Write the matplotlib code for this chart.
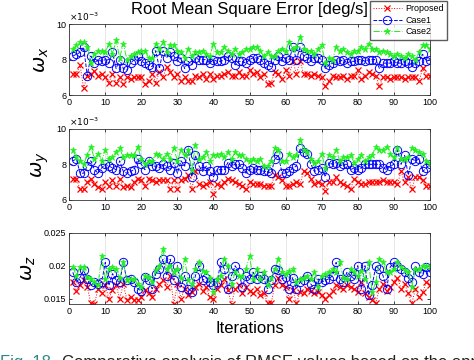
import numpy as np
import matplotlib
matplotlib.use('Agg')
import matplotlib.pyplot as plt

plt.rcParams['font.family'] = ['Liberation Sans', 'DejaVu Sans']
plt.rcParams['mathtext.fontset'] = 'dejavusans'

iterations = np.arange(1, 101)

# omega_x  (x 1e-3)
wx_proposed = [7.2, 7.2, 7.7, 6.4, 7.1, 7.2, 7.35, 7.1, 7.2, 7.0,
               6.7, 7.2, 6.7, 7.0, 6.6, 7.0, 6.9, 7.0, 7.0, 7.0,
               6.6, 6.8, 7.2, 6.7, 7.3, 7.0, 7.6, 7.3, 7.0, 7.2,
               6.8, 7.0, 6.8, 6.8, 7.1, 7.0, 7.2, 6.9, 7.2, 6.9,
               7.1, 7.1, 7.2, 7.3, 7.1, 7.1, 7.3, 7.1, 7.1, 7.4,
               7.2, 7.3, 7.0, 7.2, 6.6, 6.7, 7.3, 7.2, 6.9, 7.4,
               7.1, 7.9, 7.2, 7.9, 7.2, 7.2, 7.1, 7.2, 7.1, 7.0,
               6.5, 6.8, 7.1, 7.0, 7.0, 7.1, 6.9, 7.1, 7.1, 7.4,
               6.9, 7.1, 7.3, 7.2, 7.1, 6.5, 7.0, 7.0, 6.9, 7.0,
               7.0, 7.0, 6.9, 7.0, 7.0, 7.0, 6.8, 7.5, 7.1, 7.1]
wx_case1 = [8.2, 8.3, 8.4, 8.7, 7.1, 8.2, 7.8, 8.0, 7.9, 8.0,
            7.8, 8.4, 7.5, 8.0, 7.5, 7.4, 7.8, 8.0, 8.2, 7.9,
            7.8, 7.7, 7.6, 8.5, 7.5, 8.5, 8.1, 8.4, 8.2, 7.9,
            8.1, 7.5, 7.9, 7.7, 8.1, 8.0, 8.0, 8.0, 7.8, 8.0,
            7.9, 7.9, 8.0, 8.2, 8.1, 7.7, 7.9, 7.9, 7.8, 8.0,
            8.1, 8.1, 8.0, 7.8, 7.7, 7.6, 8.0, 8.2, 7.9, 8.1,
            8.0, 8.7, 8.0, 8.7, 8.2, 8.1, 7.9, 8.1, 8.1, 8.0,
            7.5, 7.7, 7.8, 8.0, 7.9, 8.0, 7.8, 7.9, 7.9, 8.0,
            8.0, 7.9, 8.0, 8.0, 8.0, 7.5, 7.8, 7.8, 7.8, 7.9,
            7.8, 7.8, 7.9, 7.8, 7.6, 7.8, 7.9, 8.3, 7.9, 8.0]
wx_case2 = [8.6, 8.8, 9.0, 9.0, 8.7, 7.8, 8.3, 8.5, 8.5, 8.4,
            8.9, 8.3, 9.1, 8.1, 8.9, 8.0, 8.2, 8.3, 8.4, 8.5,
            8.5, 8.1, 8.1, 8.9, 8.6, 9.0, 8.4, 8.8, 8.8, 8.5,
            8.4, 8.1, 8.6, 8.2, 8.4, 8.4, 8.5, 8.3, 8.2, 8.9,
            8.4, 8.4, 8.7, 8.5, 8.3, 8.6, 8.3, 8.4, 8.6, 8.6,
            8.7, 8.7, 8.5, 8.2, 8.4, 8.2, 8.2, 8.5, 8.6, 8.5,
            9.0, 8.6, 8.7, 9.3, 8.6, 8.5, 8.5, 8.3, 8.6, 8.8,
            7.8, 8.1, 8.0, 8.7, 8.5, 8.6, 8.4, 8.3, 8.5, 8.5,
            8.7, 8.6, 8.9, 8.6, 8.6, 8.4, 8.5, 8.4, 8.3, 8.2,
            8.3, 8.2, 8.1, 8.3, 8.2, 8.0, 8.4, 8.8, 8.8, 8.6]

# omega_y  (x 1e-3)
wy_proposed = [7.2, 7.2, 6.6, 6.6, 7.0, 7.2, 6.9, 6.7, 6.6, 7.0,
               6.8, 7.1, 6.8, 7.2, 6.7, 6.8, 6.7, 7.0, 7.2, 7.1,
               6.8, 7.2, 7.1, 7.0, 7.1, 7.1, 7.1, 6.6, 7.1, 6.6,
               7.1, 7.2, 7.4, 6.6, 7.6, 6.9, 6.8, 6.9, 7.0, 6.3,
               6.9, 6.8, 7.0, 7.2, 7.1, 7.0, 6.9, 6.8, 6.6, 7.0,
               6.9, 6.9, 6.9, 6.8, 6.8, 6.8, 7.4, 7.3, 7.1, 6.8,
               6.8, 6.9, 7.0, 6.9, 7.6, 7.5, 7.2, 6.9, 7.0, 6.9,
               6.5, 7.0, 7.0, 7.3, 7.0, 6.9, 6.8, 6.6, 7.2, 7.0,
               6.9, 6.9, 7.0, 7.0, 7.0, 7.0, 7.1, 7.0, 7.0, 7.0,
               6.9, 7.6, 7.0, 7.3, 6.6, 7.3, 7.3, 7.1, 6.8, 6.8]
wy_case1 = [8.2, 8.3, 7.5, 7.5, 7.9, 8.2, 7.7, 7.5, 7.8, 8.0,
            7.9, 7.8, 7.7, 8.2, 7.6, 7.5, 7.6, 7.7, 8.3, 8.0,
            7.7, 8.2, 7.9, 7.9, 7.8, 8.0, 7.9, 7.7, 8.1, 7.5,
            8.2, 7.9, 8.8, 7.3, 8.5, 7.9, 7.6, 7.9, 7.6, 7.3,
            7.7, 7.7, 7.7, 8.1, 7.9, 8.0, 8.0, 7.8, 7.5, 7.7,
            7.8, 7.7, 7.7, 7.6, 7.6, 7.5, 8.3, 8.5, 7.5, 7.5,
            7.6, 7.8, 7.9, 8.9, 8.7, 8.6, 8.0, 7.6, 7.7, 7.8,
            7.3, 8.1, 8.0, 8.1, 7.9, 8.0, 8.0, 7.7, 7.8, 7.7,
            7.8, 8.0, 8.0, 8.0, 8.0, 8.0, 7.8, 7.7, 7.9, 8.0,
            8.8, 8.0, 8.5, 7.4, 8.3, 8.2, 8.3, 7.6, 7.8, 8.0]
wy_case2 = [8.8, 8.4, 8.2, 8.0, 8.5, 9.0, 8.3, 8.6, 8.2, 8.8,
            8.3, 8.4, 8.7, 8.9, 8.4, 8.5, 8.5, 8.5, 9.0, 8.3,
            8.0, 8.2, 8.2, 8.6, 8.5, 8.3, 8.6, 8.3, 8.9, 8.2,
            8.8, 8.5, 8.8, 7.7, 9.1, 8.3, 8.4, 8.7, 8.2, 8.5,
            8.5, 8.6, 8.4, 8.7, 8.3, 8.7, 8.5, 8.5, 8.3, 8.2,
            8.3, 8.2, 8.3, 7.9, 7.9, 8.2, 8.9, 8.8, 8.2, 8.2,
            8.6, 8.4, 8.5, 9.4, 8.8, 8.7, 8.3, 8.1, 8.2, 8.6,
            7.8, 8.5, 8.4, 8.8, 8.2, 8.4, 8.4, 8.5, 8.1, 8.3,
            8.5, 8.2, 8.4, 8.5, 9.0, 8.8, 8.8, 9.0, 8.6, 8.4,
            8.9, 8.3, 8.3, 8.4, 8.9, 8.8, 8.7, 8.6, 8.2, 8.1]

# omega_z
wz_proposed = [0.0176, 0.0162, 0.0170, 0.0178, 0.0168, 0.0143, 0.0142, 0.0165, 0.0158, 0.0170,
               0.0150, 0.0163, 0.0170, 0.0150, 0.0172, 0.0148, 0.0153, 0.0148, 0.0148, 0.0152,
               0.0163, 0.0158, 0.0153, 0.0165, 0.0172, 0.0178, 0.0168, 0.0185, 0.0142, 0.0172,
               0.0150, 0.0165, 0.0155, 0.0160, 0.0168, 0.0172, 0.0162, 0.0168, 0.0152, 0.0150,
               0.0165, 0.0170, 0.0180, 0.0163, 0.0142, 0.0165, 0.0170, 0.0158, 0.0168, 0.0162,
               0.0158, 0.0165, 0.0155, 0.0158, 0.0143, 0.0143, 0.0170, 0.0182, 0.0170, 0.0168,
               0.0150, 0.0163, 0.0143, 0.0160, 0.0158, 0.0165, 0.0162, 0.0158, 0.0160, 0.0155,
               0.0150, 0.0155, 0.0162, 0.0170, 0.0168, 0.0165, 0.0170, 0.0168, 0.0165, 0.0160,
               0.0175, 0.0158, 0.0152, 0.0148, 0.0143, 0.0165, 0.0172, 0.0162, 0.0168, 0.0175,
               0.0182, 0.0165, 0.0172, 0.0158, 0.0143, 0.0165, 0.0152, 0.0160, 0.0175, 0.0170]
wz_case1 = [0.0190, 0.0175, 0.0182, 0.0193, 0.0180, 0.0170, 0.0175, 0.0172, 0.0175, 0.0205,
            0.0170, 0.0188, 0.0178, 0.0175, 0.0205, 0.0178, 0.0180, 0.0175, 0.0165, 0.0162,
            0.0183, 0.0178, 0.0165, 0.0188, 0.0195, 0.0210, 0.0185, 0.0210, 0.0178, 0.0200,
            0.0168, 0.0185, 0.0165, 0.0160, 0.0185, 0.0200, 0.0178, 0.0182, 0.0175, 0.0170,
            0.0175, 0.0205, 0.0195, 0.0165, 0.0185, 0.0200, 0.0190, 0.0168, 0.0185, 0.0180,
            0.0190, 0.0180, 0.0185, 0.0180, 0.0165, 0.0178, 0.0195, 0.0193, 0.0180, 0.0183,
            0.0165, 0.0182, 0.0165, 0.0175, 0.0178, 0.0185, 0.0172, 0.0165, 0.0180, 0.0175,
            0.0178, 0.0180, 0.0185, 0.0205, 0.0180, 0.0175, 0.0190, 0.0185, 0.0180, 0.0200,
            0.0165, 0.0200, 0.0155, 0.0170, 0.0200, 0.0195, 0.0185, 0.0165, 0.0198, 0.0205,
            0.0200, 0.0195, 0.0190, 0.0182, 0.0175, 0.0200, 0.0190, 0.0188, 0.0198, 0.0190]
wz_case2 = [0.0198, 0.0185, 0.0198, 0.0198, 0.0183, 0.0180, 0.0175, 0.0170, 0.0215, 0.0180,
            0.0195, 0.0198, 0.0195, 0.0182, 0.0205, 0.0178, 0.0180, 0.0180, 0.0172, 0.0168,
            0.0185, 0.0183, 0.0175, 0.0193, 0.0200, 0.0225, 0.0195, 0.0200, 0.0190, 0.0195,
            0.0182, 0.0210, 0.0178, 0.0172, 0.0195, 0.0205, 0.0192, 0.0190, 0.0182, 0.0160,
            0.0180, 0.0185, 0.0210, 0.0200, 0.0172, 0.0190, 0.0185, 0.0185, 0.0195, 0.0215,
            0.0180, 0.0195, 0.0180, 0.0190, 0.0170, 0.0182, 0.0195, 0.0210, 0.0190, 0.0188,
            0.0192, 0.0195, 0.0175, 0.0180, 0.0182, 0.0185, 0.0180, 0.0190, 0.0168, 0.0185,
            0.0188, 0.0190, 0.0195, 0.0190, 0.0205, 0.0182, 0.0180, 0.0195, 0.0190, 0.0185,
            0.0192, 0.0180, 0.0205, 0.0160, 0.0175, 0.0210, 0.0205, 0.0190, 0.0190, 0.0195,
            0.0205, 0.0198, 0.0193, 0.0190, 0.0168, 0.0195, 0.0195, 0.0200, 0.0200, 0.0200]

panels = [
    (wx_proposed, wx_case1, wx_case2, r'$\omega_x$', (6, 10), [6, 8, 10], ['6', '8', '10'], True),
    (wy_proposed, wy_case1, wy_case2, r'$\omega_y$', (6, 10), [6, 8, 10], ['6', '8', '10'], True),
    (wz_proposed, wz_case1, wz_case2, r'$\omega_z$', (0.0142, 0.025), [0.015, 0.02, 0.025],
     ['0.015', '0.02', '0.025'], False),
]
tops = [0.933, 0.642, 0.353]
h = 0.197

fig = plt.figure(figsize=(4.74, 3.6), dpi=100)
axes = []
for (prop, c1, c2, lab, ylim, yt, ytl, scaled), top in zip(panels, tops):
    ax = fig.add_axes([0.146, top - h, 0.761, h])
    l1, = ax.plot(iterations, prop, color='red', ls=':', lw=0.7, marker='x',
                  ms=4, mew=0.9, label='Proposed')
    l2, = ax.plot(iterations, c1, color='blue', ls='--', lw=0.7, marker='o',
                  ms=6, mfc='none', mew=0.7, label='Case1')
    l3, = ax.plot(iterations, c2, color='#22f022', ls='-.', lw=0.7, marker='*',
                  ms=5, mew=0.5, label='Case2')
    ax.set_xlim(0, 100)
    ax.set_ylim(*ylim)
    ax.set_xticks(range(0, 101, 10))
    ax.set_yticks(yt)
    ax.set_yticklabels(ytl)
    ax.tick_params(direction='in', top=True, right=True, labelsize=6.5,
                   length=2.5, width=0.5, pad=2)
    ax.grid(axis='x', color='#dddddd', lw=0.5)
    ax.set_axisbelow(True)
    for s in ax.spines.values():
        s.set_linewidth(0.6)
        s.set_color('#333333')
    ax.set_ylabel(lab, fontsize=14, labelpad=4)
    if scaled:
        ax.text(0.0, 1.01, r'$\times10^{-3}$', transform=ax.transAxes,
                fontsize=6.5, ha='left', va='bottom')
    axes.append(ax)

axes[0].set_title('Root Mean Square Error [deg/s]', fontsize=12, pad=7)
axes[2].set_xlabel('Iterations', fontsize=12, labelpad=4)

fig.legend(handles=[l1, l2, l3], loc='upper right', bbox_to_anchor=(0.953, 1.01),
           fontsize=6.5, frameon=True, fancybox=False, edgecolor='#333333',
           handlelength=3.2, borderpad=0.35, labelspacing=0.3, handletextpad=0.4)

# caption, cropped at the bottom edge as in the source image
fig.text(0.0, -0.02, 'Fig. 18.', color='#2a8a8a', fontsize=12, va='baseline', ha='left')
fig.text(0.13, -0.02, 'Comparative analysis of RMSE values based on the approach',
         color='#222222', fontsize=12, va='baseline', ha='left')

fig.savefig('out.png', dpi=100)
